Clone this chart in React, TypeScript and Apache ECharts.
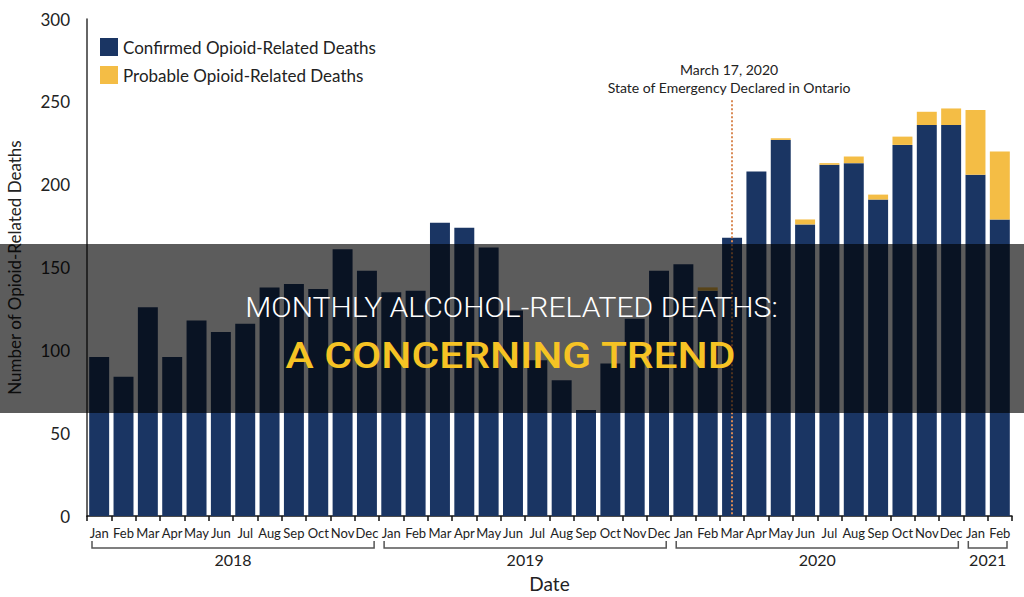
import React, { useEffect, useRef } from "react";
import * as echarts from "echarts";

// Monthly counts, Jan 2018 – Feb 2021
const monthNames = ["Jan", "Feb", "Mar", "Apr", "May", "Jun", "Jul", "Aug", "Sep", "Oct", "Nov", "Dec"];
const yearSpans = [
  { year: "2018", months: 12 },
  { year: "2019", months: 12 },
  { year: "2020", months: 12 },
  { year: "2021", months: 2 },
];

const confirmedDeaths = [
  96, 84, 126, 96, 118, 111, 116, 138, 140, 137, 161, 148,
  135, 136, 177, 174, 162, 124, 94, 82, 64, 92, 119, 148,
  152, 136, 168, 208, 227, 176, 212, 213, 191, 224, 236, 236,
  206, 179,
];
const probableDeaths = [
  0, 0, 0, 0, 0, 0, 0, 0, 0, 0, 0, 0,
  0, 0, 0, 0, 0, 0, 0, 0, 0, 0, 0, 0,
  0, 2, 0, 0, 1, 3, 1, 4, 3, 5, 8, 10,
  39, 41,
];

const yTicks = { min: 0, max: 300, interval: 50 };
const emergencyIndex = 26; // Mar 2020
const emergencyLabel = "March 17, 2020\nState of Emergency Declared in Ontario";

const categories: string[] = [];
yearSpans.forEach((s) => {
  for (let m = 0; m < s.months; m++) categories.push(`${monthNames[m]} ${s.year}`);
});

const FONT = 'Lato, "Open Sans", "DejaVu Sans", sans-serif';
const BANNER_FONT = "Roboto";
const NAVY = "#1a3563";
const GOLD = "#f4bd45";

// Width of a string in a given font, used to squeeze the banner lines into a condensed look
function measure(text: string, size: number, weight: string): number {
  const ctx = document.createElement("canvas").getContext("2d");
  if (!ctx) return text.length * size * 0.6;
  ctx.font = `${weight} ${size}px ${BANNER_FONT}`;
  return ctx.measureText(text).width;
}

export default function App() {
  const ref = useRef<HTMLDivElement>(null);

  useEffect(() => {
    if (!ref.current) return;
    const chart = echarts.init(ref.current, null, { renderer: "svg" });

    const option: any = {
      animation: false,
      backgroundColor: "#ffffff",
      textStyle: { fontFamily: FONT },
      grid: { left: 87, right: 12, top: 19, bottom: 81, containLabel: false, outerBoundsMode: "none" },
      legend: {
        orient: "vertical",
        left: 100,
        top: 38,
        padding: 0,
        itemWidth: 18,
        itemHeight: 18,
        itemGap: 10,
        icon: "rect",
        textStyle: { fontFamily: FONT, fontSize: 17, color: "#222" },
        data: ["Confirmed Opioid-Related Deaths", "Probable Opioid-Related Deaths"],
      },
      xAxis: {
        type: "category",
        data: categories,
        boundaryGap: true,
        name: "Date",
        nameLocation: "middle",
        nameGap: 58,
        nameTextStyle: { fontFamily: FONT, fontSize: 19, color: "#222" },
        axisLine: { lineStyle: { color: "#111", width: 1.5 } },
        axisTick: { show: true, interval: 0, length: 5, lineStyle: { color: "#111", width: 1.5 } },
        axisLabel: {
          interval: 0,
          margin: 10,
          fontFamily: FONT,
          fontSize: 13,
          color: "#222",
          formatter: (v: string) => v.split(" ")[0],
        },
      },
      yAxis: {
        type: "value",
        min: yTicks.min,
        max: yTicks.max,
        interval: yTicks.interval,
        name: "Number of Opioid-Related Deaths",
        nameLocation: "middle",
        nameGap: 64,
        nameRotate: 90,
        nameTextStyle: { fontFamily: FONT, fontSize: 17, color: "#222" },
        splitLine: { show: false },
        axisTick: { show: false },
        axisLine: { show: true, lineStyle: { color: "#333", width: 1.5 } },
        axisLabel: { fontFamily: FONT, fontSize: 17, color: "#222", margin: 17 },
      },
      series: [
        {
          name: "Confirmed Opioid-Related Deaths",
          type: "bar",
          stack: "deaths",
          barCategoryGap: "18%",
          itemStyle: { color: NAVY },
          data: confirmedDeaths,
          markLine: {
            silent: true,
            symbol: ["none", "none"],
            lineStyle: { color: "#d98a55", width: 2, type: "dotted" },
            label: {
              show: true,
              position: "start",
              distance: 4,
              formatter: emergencyLabel,
              fontFamily: FONT,
              fontSize: 14,
              lineHeight: 18,
              color: "#222",
              align: "center",
              offset: [-3, 0],
            },
            data: [[{ coord: [emergencyIndex, 251] }, { coord: [emergencyIndex, 0] }]],
          },
        },
        {
          name: "Probable Opioid-Related Deaths",
          type: "bar",
          stack: "deaths",
          barCategoryGap: "18%",
          itemStyle: { color: GOLD },
          data: probableDeaths,
        },
      ],
    };
    chart.setOption(option);

    // Year brackets under the month labels, placed from the category scale
    const px = (i: number) => chart.convertToPixel({ xAxisIndex: 0 }, i) as number;
    const band = px(1) - px(0);
    const graphics: any[] = [];
    let start = 0;
    yearSpans.forEach((s) => {
      const left = px(start) - band / 2 + 5;
      const right = px(start + s.months - 1) + band / 2 - 5;
      graphics.push({
        type: "polyline",
        silent: true,
        shape: { points: [[left, 541], [left, 548], [right, 548], [right, 541]] },
        style: { stroke: "#555", lineWidth: 1.5, fill: null },
      });
      graphics.push({
        type: "text",
        silent: true,
        x: (left + right) / 2,
        y: 559,
        style: {
          text: s.year,
          fontFamily: FONT,
          fontSize: 16,
          fill: "#222",
          align: "center",
          verticalAlign: "middle",
        },
      });
      start += s.months;
    });

    // Title banner across the middle of the chart
    const line1 = "MONTHLY ALCOHOL-RELATED DEATHS:";
    const line2 = "A CONCERNING TREND";
    const size1 = 28;
    const size2 = 36.5;
    const scale1 = 533 / measure(line1, size1, "300");
    const scale2 = 451 / measure(line2, size2, "500");
    graphics.push({
      type: "rect",
      silent: true,
      z: 100,
      shape: { x: 0, y: 244, width: 1024, height: 169 },
      style: { fill: "rgba(0,0,0,0.64)" },
    });
    graphics.push({
      type: "text",
      silent: true,
      z: 101,
      x: 511.5,
      y: 307,
      scaleX: scale1,
      style: {
        text: line1,
        fontFamily: BANNER_FONT,
        fontWeight: 300,
        fontSize: size1,
        fill: "#ffffff",
        align: "center",
        verticalAlign: "middle",
      },
    });
    graphics.push({
      type: "text",
      silent: true,
      z: 101,
      x: 510.5,
      y: 356,
      scaleX: scale2,
      style: {
        text: line2,
        fontFamily: BANNER_FONT,
        fontWeight: 500,
        fontSize: size2,
        fill: "#f6c324",
        align: "center",
        verticalAlign: "middle",
      },
    });
    chart.setOption({ graphic: graphics });

    return () => chart.dispose();
  }, []);

  return (
    <div
      ref={ref}
      style={{ position: "fixed", left: 0, top: 0, width: 1024, height: 597, background: "#fff" }}
    />
  );
}
